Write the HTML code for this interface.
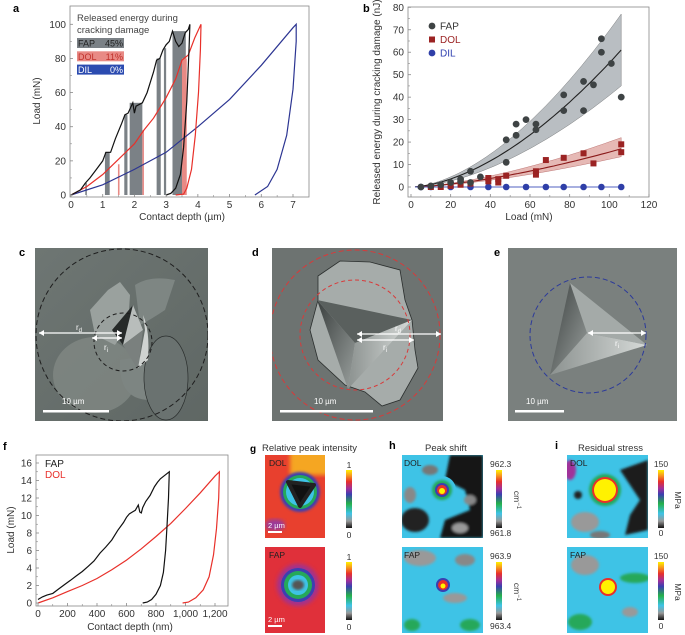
<!DOCTYPE html>
<html><head><meta charset="utf-8"><style>
html,body{margin:0;padding:0;background:#fff}
svg{display:block;font-family:"Liberation Sans",sans-serif;fill:#333}
</style></head><body>
<svg id="fig" width="685" height="635" viewBox="0 0 685 635">
<defs>
<linearGradient id="cbar" x1="0" y1="1" x2="0" y2="0">
<stop offset="0" stop-color="#111"/><stop offset="0.12" stop-color="#999"/><stop offset="0.25" stop-color="#3ec3e6"/><stop offset="0.42" stop-color="#25b04a"/><stop offset="0.58" stop-color="#3b3fb0"/><stop offset="0.68" stop-color="#a0309a"/><stop offset="0.8" stop-color="#e8302a"/><stop offset="0.9" stop-color="#f7941e"/><stop offset="1" stop-color="#fff200"/>
</linearGradient>
<linearGradient id="semc" x1="0" y1="0" x2="1" y2="1"><stop offset="0" stop-color="#6e7673"/><stop offset="1" stop-color="#5f6764"/></linearGradient>
<linearGradient id="facet1" x1="0" y1="0" x2="1" y2="1"><stop offset="0" stop-color="#3a3f3e"/><stop offset="1" stop-color="#9aa09e"/></linearGradient>
<linearGradient id="facet2" x1="0" y1="0" x2="1" y2="0"><stop offset="0" stop-color="#8c9290"/><stop offset="1" stop-color="#d6dad8"/></linearGradient>
<filter id="blur2"><feGaussianBlur stdDeviation="2"/></filter>
<filter id="blur1"><feGaussianBlur stdDeviation="1.2"/></filter>
<clipPath id="cg1"><rect x="265" y="455" width="60" height="83"/></clipPath>
<clipPath id="cg2"><rect x="265" y="547" width="60" height="86"/></clipPath>
<clipPath id="ch1"><rect x="402" y="455" width="81" height="83"/></clipPath>
<clipPath id="ch2"><rect x="402" y="547" width="81" height="86"/></clipPath>
<clipPath id="ci1"><rect x="567" y="455" width="81" height="83"/></clipPath>
<clipPath id="ci2"><rect x="567" y="547" width="81" height="86"/></clipPath>
<clipPath id="cc"><rect x="35" y="248" width="173" height="173"/></clipPath>
<clipPath id="cd"><rect x="272" y="248" width="171" height="173"/></clipPath>
<clipPath id="ce"><rect x="508" y="248" width="169" height="173"/></clipPath>
</defs>

<!-- panel labels -->
<text x="13" y="12" font-size="11" font-weight="bold" fill="#000">a</text>
<text x="363" y="12" font-size="11" font-weight="bold" fill="#000">b</text>
<text x="19" y="256" font-size="11" font-weight="bold" fill="#000">c</text>
<text x="252" y="256" font-size="11" font-weight="bold" fill="#000">d</text>
<text x="494" y="256" font-size="11" font-weight="bold" fill="#000">e</text>
<text x="3" y="450" font-size="11" font-weight="bold" fill="#000">f</text>
<text x="250" y="452" font-size="10" font-weight="bold" fill="#000">g</text>
<text x="262" y="451" font-size="9.5">Relative peak intensity</text>
<text x="389" y="449" font-size="11" font-weight="bold" fill="#000">h</text>
<text x="425" y="451" font-size="9.5">Peak shift</text>
<text x="555" y="449" font-size="11" font-weight="bold" fill="#000">i</text>
<text x="578" y="451" font-size="9.5">Residual stress</text>

<g id="pa"></g>
<g id="pb"></g>
<g id="pf"></g>

<!-- SEM c -->
<g clip-path="url(#cc)">
<rect x="35" y="248" width="173" height="173" fill="url(#semc)"/>
<ellipse cx="95" cy="375" rx="42" ry="38" fill="#848b88" opacity="0.7"/>
<path d="M120 360 Q118 400 150 400 Q160 380 150 355 Z" fill="#7d8582"/>
<ellipse cx="166" cy="378" rx="22" ry="42" fill="#6a7270" stroke="#2a2e2d" stroke-width="0.7"/>
<path d="M135 285 Q150 275 175 280 L165 310 Q150 320 140 325 Z" fill="#7e8683"/>
<path d="M90 310 L108 290 L120 282 L130 295 L128 325 L115 345 L95 335 Z" fill="#9aa19e"/>
<path d="M112 330 L133 305 L123 345 Z" fill="#262a29"/>
<path d="M133 305 L143 330 L123 345 Z" fill="#b8bdbb"/>
<path d="M123 345 L143 330 L138 370 Z" fill="#7a807e"/>
<path d="M143 315 Q150 330 148 360 L138 368 L145 330Z" fill="#cfd3d1"/>
<circle cx="122" cy="335" r="86" fill="none" stroke="#1e1e1e" stroke-width="1" stroke-dasharray="5,3"/>
<circle cx="123" cy="342" r="29" fill="none" stroke="#1e1e1e" stroke-width="1" stroke-dasharray="4,3"/>
<line x1="39" y1="333" x2="122" y2="333" stroke="#fff" stroke-width="1.3"/>
<path d="M39 333 l5 -3 v6Z M122 333 l-5 -3 v6Z" fill="#fff"/>
<line x1="92" y1="338" x2="122" y2="338" stroke="#fff" stroke-width="1.3"/>
<path d="M92 338 l5 -3 v6Z M122 338 l-5 -3 v6Z" fill="#fff"/>
<text x="76" y="330" font-size="8" fill="#fff">r<tspan font-size="6" dy="2" fill="#fff">d</tspan></text>
<text x="104" y="350" font-size="8" fill="#fff">r<tspan font-size="6" dy="2" fill="#fff">i</tspan></text>
<rect x="43" y="410" width="66" height="2.5" fill="#fff"/>
<text x="62" y="404" font-size="8" fill="#fff">10 µm</text>
</g>

<!-- SEM d -->
<g clip-path="url(#cd)">
<rect x="272" y="248" width="171" height="173" fill="#6d7371"/>
<path d="M318 276 L340 261 L370 262 L400 270 L405 300 L412 320 L415 350 L418 368 L400 400 L382 406 L365 392 L345 385 L318 360 L310 330 L318 300 Z" fill="#a6acaa" stroke="#2b2f2e" stroke-width="0.8"/>
<path d="M317 300 L348 389 L355 343 Z" fill="url(#facet1)"/>
<path d="M317 300 L412 320 L355 343 Z" fill="#5a605e"/>
<path d="M355 343 L412 320 L348 389 Z" fill="url(#facet2)"/>
<circle cx="355" cy="335" r="85" fill="none" stroke="#d83a3a" stroke-width="1" stroke-dasharray="5,3"/>
<circle cx="355" cy="335" r="55" fill="none" stroke="#d83a3a" stroke-width="1" stroke-dasharray="4,3"/>
<line x1="357" y1="334" x2="441" y2="334" stroke="#fff" stroke-width="1.3"/>
<path d="M357 334 l5 -3 v6Z M441 334 l-5 -3 v6Z" fill="#fff"/>
<line x1="357" y1="340" x2="414" y2="340" stroke="#fff" stroke-width="1.3"/>
<path d="M357 340 l5 -3 v6Z M414 340 l-5 -3 v6Z" fill="#fff"/>
<text x="395" y="331" font-size="8" fill="#fff">r<tspan font-size="6" dy="2" fill="#fff">d</tspan></text>
<text x="383" y="350" font-size="8" fill="#fff">r<tspan font-size="6" dy="2" fill="#fff">i</tspan></text>
<rect x="280" y="410" width="93" height="2.5" fill="#fff"/>
<text x="314" y="404" font-size="8" fill="#fff">10 µm</text>
</g>

<!-- SEM e -->
<g clip-path="url(#ce)">
<rect x="508" y="248" width="169" height="173" fill="#7a807e"/>
<path d="M570 283 L587 333 L550 375 Z" fill="url(#facet1)"/>
<path d="M570 283 L587 333 L647 345 Z" fill="#a4aaa8"/>
<path d="M587 333 L647 345 L550 375 Z" fill="url(#facet2)"/>
<circle cx="588" cy="335" r="58" fill="none" stroke="#2c3a9a" stroke-width="1" stroke-dasharray="5,3"/>
<line x1="588" y1="333" x2="646" y2="333" stroke="#fff" stroke-width="1.3"/>
<path d="M588 333 l5 -3 v6Z M646 333 l-5 -3 v6Z" fill="#fff"/>
<text x="615" y="346" font-size="8" fill="#fff">r<tspan font-size="6" dy="2" fill="#fff">i</tspan></text>
<rect x="515" y="410" width="49" height="2.5" fill="#fff"/>
<text x="526" y="404" font-size="8" fill="#fff">10 µm</text>
</g>

<!-- g maps -->
<g clip-path="url(#cg1)">
<rect x="265" y="455" width="60" height="83" fill="#e8402e"/>
<rect x="290" y="450" width="40" height="25" fill="#f5a623" filter="url(#blur2)"/>
<ellipse cx="275" cy="525" rx="10" ry="6" fill="#9a3a9a" filter="url(#blur2)"/>
<circle cx="300" cy="492" r="20" fill="#3d3fb0" filter="url(#blur1)"/>
<circle cx="300" cy="492" r="17" fill="#25a85a"/>
<circle cx="300" cy="492" r="14" fill="#3ec3e6"/>
<path d="M288 482 L314 485 L300 506 Z" fill="#111" stroke="#222" stroke-width="4" stroke-linejoin="round"/>
<text x="269" y="466" font-size="8.5" fill="#222">DOL</text>
<rect x="268" y="531" width="14" height="2" fill="#fff"/>
<text x="268" y="528" font-size="7.5" fill="#fff">2 µm</text>
</g>
<g clip-path="url(#cg2)">
<rect x="265" y="547" width="60" height="86" fill="#e0303a"/>
<circle cx="298" cy="585" r="21" fill="#a03090" filter="url(#blur2)"/>
<circle cx="298" cy="585" r="17" fill="#3d3fb0"/>
<circle cx="298" cy="585" r="14" fill="#25a85a"/>
<circle cx="298" cy="585" r="10" fill="#3ec3e6"/>
<ellipse cx="298" cy="585" rx="6" ry="5" fill="#555" filter="url(#blur1)"/>
<text x="269" y="558" font-size="8.5" fill="#222">FAP</text>
<rect x="268" y="625" width="14" height="2" fill="#fff"/>
<text x="268" y="622" font-size="7.5" fill="#fff">2 µm</text>
</g>
<g>
<rect x="346" y="470" width="6" height="58" fill="url(#cbar)"/>
<rect x="346" y="562" width="6" height="58" fill="url(#cbar)"/>
<text x="349" y="468" font-size="8.5" text-anchor="middle">1</text>
<text x="349" y="538" font-size="8.5" text-anchor="middle">0</text>
<text x="349" y="560" font-size="8.5" text-anchor="middle">1</text>
<text x="349" y="630" font-size="8.5" text-anchor="middle">0</text>
</g>

<!-- h maps -->
<g clip-path="url(#ch1)">
<rect x="402" y="455" width="81" height="83" fill="#3ec3e6"/>
<g filter="url(#blur1)">
<path d="M450 455 L483 455 L483 538 L440 538 L445 520 L470 510 L465 490 L445 480 Z" fill="#151515"/>
<ellipse cx="415" cy="520" rx="14" ry="12" fill="#222"/>
<ellipse cx="430" cy="470" rx="8" ry="5" fill="#777"/>
<ellipse cx="410" cy="495" rx="6" ry="8" fill="#888"/>
<ellipse cx="470" cy="500" rx="6" ry="5" fill="#888"/>
<ellipse cx="460" cy="528" rx="8" ry="5" fill="#999"/>
</g>
<circle cx="442" cy="490" r="14" fill="#3ec3e6"/>
<circle cx="442" cy="490" r="10" fill="#25a85a" filter="url(#blur1)"/>
<circle cx="442" cy="490" r="7" fill="#3b3fb0"/>
<circle cx="442" cy="490" r="5" fill="#e8302a"/>
<circle cx="442" cy="491" r="3" fill="#fff200"/>
<text x="404" y="466" font-size="8.5" fill="#222">DOL</text>
</g>
<g clip-path="url(#ch2)">
<rect x="402" y="547" width="81" height="86" fill="#3ec3e6"/>
<g filter="url(#blur1)">
<ellipse cx="420" cy="558" rx="16" ry="8" fill="#999"/>
<ellipse cx="465" cy="560" rx="10" ry="6" fill="#888"/>
<ellipse cx="455" cy="598" rx="12" ry="5" fill="#999"/>
<ellipse cx="412" cy="625" rx="8" ry="6" fill="#25a85a"/>
<ellipse cx="470" cy="625" rx="10" ry="6" fill="#25a85a"/>
</g>
<circle cx="443" cy="585" r="7" fill="#3b3fb0"/>
<circle cx="443" cy="585" r="5" fill="#e8302a"/>
<circle cx="443" cy="586" r="2.5" fill="#fff200"/>
<text x="404" y="558" font-size="8.5" fill="#222">FAP</text>
</g>
<g>
<rect x="496" y="470" width="6" height="58" fill="url(#cbar)"/>
<rect x="496" y="562" width="6" height="58" fill="url(#cbar)"/>
<text x="490" y="467" font-size="8.5">962.3</text>
<text x="490" y="536" font-size="8.5">961.8</text>
<text x="490" y="559" font-size="8.5">963.9</text>
<text x="490" y="629" font-size="8.5">963.4</text>
<text transform="translate(514,500) rotate(90)" font-size="8.5" text-anchor="middle">cm<tspan dy="-3" font-size="6">−1</tspan></text>
<text transform="translate(514,592) rotate(90)" font-size="8.5" text-anchor="middle">cm<tspan dy="-3" font-size="6">−1</tspan></text>
</g>

<!-- i maps -->
<g clip-path="url(#ci1)">
<rect x="567" y="455" width="81" height="83" fill="#3ec3e6"/>
<g filter="url(#blur1)">
<path d="M620 470 L648 460 L648 530 L625 535 L630 515 L640 500 Z" fill="#1a1a1a"/>
<ellipse cx="585" cy="522" rx="14" ry="10" fill="#999"/>
<ellipse cx="570" cy="470" rx="6" ry="10" fill="#a0309a"/>
<ellipse cx="600" cy="535" rx="10" ry="4" fill="#777"/>
<ellipse cx="578" cy="495" rx="4" ry="4" fill="#222"/>
</g>
<circle cx="605" cy="490" r="16" fill="#25a85a" filter="url(#blur1)"/>
<circle cx="605" cy="490" r="13" fill="#e8302a"/>
<circle cx="605" cy="490" r="11" fill="#fff200"/>
<text x="570" y="466" font-size="8.5" fill="#222">DOL</text>
</g>
<g clip-path="url(#ci2)">
<rect x="567" y="547" width="81" height="86" fill="#3ec3e6"/>
<g filter="url(#blur1)">
<ellipse cx="585" cy="565" rx="14" ry="10" fill="#999"/>
<ellipse cx="635" cy="578" rx="15" ry="5" fill="#25a85a"/>
<ellipse cx="580" cy="622" rx="12" ry="8" fill="#25a85a"/>
<ellipse cx="630" cy="612" rx="8" ry="5" fill="#999"/>
</g>
<circle cx="608" cy="587" r="9" fill="#e8302a"/>
<circle cx="608" cy="587" r="7" fill="#fff200"/>
<text x="570" y="558" font-size="8.5" fill="#222">FAP</text>
</g>
<g>
<rect x="658" y="470" width="6" height="58" fill="url(#cbar)"/>
<rect x="658" y="562" width="6" height="58" fill="url(#cbar)"/>
<text x="661" y="467" font-size="8.5" text-anchor="middle">150</text>
<text x="661" y="536" font-size="8.5" text-anchor="middle">0</text>
<text x="661" y="559" font-size="8.5" text-anchor="middle">150</text>
<text x="661" y="629" font-size="8.5" text-anchor="middle">0</text>
<text transform="translate(675,500) rotate(90)" font-size="8.5" text-anchor="middle">MPa</text>
<text transform="translate(675,592) rotate(90)" font-size="8.5" text-anchor="middle">MPa</text>
</g>
</svg>
<script>
// ===== Panel a data =====
const aFapX = [0,0.3,0.45,0.6,0.8,1.0,1.1,1.25,1.4,1.6,1.7,1.8,1.95,2.0,2.05,2.25,2.4,2.5,2.6,2.7,2.8,2.9,3.0,3.1,3.2,3.3,3.4,3.5,3.6,3.7,3.75,3.72,3.65,3.55,3.45,3.3,3.15,3.0];
const aFapY = [0,3,7,10,15,20,25,25,33,42,47,48,54,48,52,54,60,66,72,79,80,85,88,90,96,90,87,89,95,97,100,85,55,28,12,4,1,0];
const aDolX = [0,0.5,1,1.5,2,2.3,2.6,3,3.3,3.5,3.7,3.9,4.1,4.08,4.02,3.92,3.8,3.65,3.55,3.3];
const aDolY = [0,5,12,21,30,38,45,57,68,79,82,92,100,85,60,35,15,4,0.5,0];
const aDilX = [0,1,2,3,4,5,6,7,7.1,7.1,7.0,6.8,6.5,6.2,5.8];
const aDilY = [0,6,15,25,40,56,76,98,100,90,62,35,15,5,0];
const aFapBarsX0 = [0.45,1.07,1.68,1.85,2.7,2.93,3.2];
const aFapBarsX1 = [0.5,1.22,1.78,2.25,2.83,3.0,3.62];
const aFapBarsH = [7,25,47,54,80,86,96];
const aDolBarsX0 = [1.48,2.25,3.5];
const aDolBarsX1 = [1.53,2.3,3.65];
const aDolBarsH = [18,38,80];
const aXTicks = [0,1,2,3,4,5,6,7];
const aYTicks = [0,20,40,60,80,100];
const aLegendNames = ["FAP","DOL","DIL"];
const aLegendPct = ["45%","11%","0%"];

// ===== Panel b data =====
const bFapX = [5,10,15,20,25,25,30,30,35,48,48,53,53,58,63,63,77,77,87,87,92,96,96,101,106];
const bFapY = [0,0.5,1,2,3.5,2.5,7,2,4.5,21,11,28,23,30,28,25.5,41,34,47,34,45.5,66,60,55,40];
const bDolX = [10,15,20,25,30,39,39,44,44,48,63,63,68,77,87,92,106,106];
const bDolY = [0,0,0.5,1,1.5,4,2.5,3.5,2,5,7,5.5,12,13,15,10.5,19,15.5];
const bDilX = [5,10,20,30,39,48,58,68,77,87,96,106];
const bDilY = [0,0,0,0,0,0,0,0,0,0,0,0];
const bFitFap = [61,1.7];
const bBandFap = [77,45];
const bFitDol = [17,1.54];
const bBandDol = [22,13.5];
const bXTicks = [0,20,40,60,80,100,120];
const bYTicks = [0,10,20,30,40,50,60,70,80];

// ===== Panel f data =====
const fFapX = [0,30,60,100,140,180,220,260,300,340,380,420,460,500,540,580,600,620,640,660,680,690,700,710,730,760,790,810,830,860,890,885,875,865,850,830,800,770,740,710];
const fFapY = [0.4,0.7,0.9,1.1,1.6,2.1,2.6,3.1,3.6,4.2,4.8,5.7,6.4,7.2,8.3,9.2,9.8,10.2,10.4,10.6,11.2,10.4,10.3,10.9,11.6,12.3,13.3,13.8,14.2,14.6,15,12,9,6,3.5,2,1,0.4,0.1,0];
const fDolX = [0,100,200,300,400,500,600,700,800,900,1000,1100,1200,1230,1225,1210,1190,1160,1120,1070,1020,980];
const fDolY = [0,0.6,1.3,2.0,2.8,3.8,4.9,6.2,7.6,9.1,10.8,12.6,14.5,15,12,8.5,5.5,3,1.5,0.6,0.1,0];
const fXTicks = [0,200,400,600,800,1000,1200];
const fXLabels = ["0","200","400","600","800","1,000","1,200"];
const fYTicks = [0,2,4,6,8,10,12,14,16];

const NS = "http://www.w3.org/2000/svg";
function mk(tag, attrs, parent){const e=document.createElementNS(NS,tag);for(const k in attrs)e.setAttribute(k,attrs[k]);parent.appendChild(e);return e;}
function lin(d0,d1,r0,r1){return v=>r0+(v-d0)*(r1-r0)/(d1-d0);}
function pathOf(xs,ys,sx,sy){return xs.map((x,i)=>(i?"L":"M")+sx(x).toFixed(1)+" "+sy(ys[i]).toFixed(1)).join(" ");}

function frame(g,box,sx,sy,xt,xl,yt){
  const r=mk("rect",{x:box[0],y:box[1],width:box[2]-box[0],height:box[3]-box[1],fill:"none",stroke:"#888","stroke-width":0.8},g);
  
  
  xt.forEach((v,i)=>{
    mk("line",{x1:sx(v),x2:sx(v),y1:box[3],y2:box[3]-3,stroke:"#888","stroke-width":0.8},g);
    const t=mk("text",{x:sx(v),y:box[3]+11,"font-size":10,"text-anchor":"middle"},g);t.textContent=xl?xl[i]:v;
    
    
  });
  yt.forEach(v=>{
    mk("line",{x1:box[0],x2:box[0]+3,y1:sy(v),y2:sy(v),stroke:"#888","stroke-width":0.8},g);
    const t=mk("text",{x:box[0]-4,y:sy(v)+3.5,"font-size":10,"text-anchor":"end"},g);t.textContent=v;
    
    
  });
  for(let i=0;i<yt.length-1;i++){const m=(yt[i]+yt[i+1])/2;mk("line",{x1:box[0],x2:box[0]+2,y1:sy(m),y2:sy(m),stroke:"#888","stroke-width":0.6},g);}
  for(let i=0;i<xt.length-1;i++){const m=(xt[i]+xt[i+1])/2;mk("line",{x1:sx(m),x2:sx(m),y1:box[3],y2:box[3]-2,stroke:"#888","stroke-width":0.6},g);}
}
function label(g,txt,x,y,rot,name){
  const t=mk("text",{"font-size":10,"text-anchor":"middle",transform:"translate("+x+","+y+")"+(rot?" rotate(-90)":"")},g);t.textContent=txt;
  
  
}

// ---- Panel a ----
(function(){
  const g=document.getElementById("pa");
  const sx=lin(0,7,71,293), sy=lin(0,100,195,24.3);
  aFapBarsX0.forEach((x0,i)=>{
    const r=mk("rect",{x:sx(x0),y:sy(aFapBarsH[i]),width:sx(aFapBarsX1[i])-sx(x0),height:sy(0)-sy(aFapBarsH[i]),fill:"#7b8186"},g);
    
    
  });
  aDolBarsX0.forEach((x0,i)=>{
    const r=mk("rect",{x:sx(x0),y:sy(aDolBarsH[i]),width:sx(aDolBarsX1[i])-sx(x0),height:sy(0)-sy(aDolBarsH[i]),fill:"#e88a85"},g);
    
    
  });
  let p=mk("path",{d:pathOf(aDilX,aDilY,sx,sy),fill:"none",stroke:"#2c3592","stroke-width":1.2},g);
  
  
  p=mk("path",{d:pathOf(aDolX,aDolY,sx,sy),fill:"none",stroke:"#e8302a","stroke-width":1.2},g);
  
  
  p=mk("path",{d:pathOf(aFapX,aFapY,sx,sy),fill:"none",stroke:"#111","stroke-width":1.2},g);
  
  
  frame(g,[70,6,309,197],sx,sy,aXTicks,null,aYTicks);
  label(g,"Contact depth (µm)",182,220,false,"x-axis-title");
  label(g,"Load (mN)",40,101,true,"y-axis-title");
  let t=mk("text",{x:77,y:21,"font-size":9.5,fill:"#444"},g);t.textContent="Released energy during";
  
  
  t=mk("text",{x:77,y:33,"font-size":9.5,fill:"#444"},g);t.textContent="cracking damage";
  const cols=["#7b8186","#e88a85","#2b4bb0"], tcol=["#222","#c0302a","#fff"];
  aLegendNames.forEach((n,i)=>{
    const y=38+i*13.3;
    const r=mk("rect",{x:77,y:y,width:47,height:10,fill:cols[i]},g);
    
    
    const a=mk("text",{x:78,y:y+8.5,"font-size":9,fill:tcol[i]},g);a.textContent=n;
    const b=mk("text",{x:123,y:y+8.5,"font-size":9,fill:tcol[i],"text-anchor":"end"},g);b.textContent=aLegendPct[i];
  });
})();

// ---- Panel b ----
(function(){
  const g=document.getElementById("pb");
  const sx=lin(0,120,411,649), sy=lin(0,80,187,7.3);
  function band(fit,bnd,fill,lc,name){
    const xs=[],up=[],lo=[],mid=[];
    for(let x=2;x<=106;x+=2){const f=Math.pow(x/106,fit[1]);xs.push(x);mid.push(fit[0]*f);up.push(bnd[0]*f);lo.push(bnd[1]*f);}
    const d=pathOf(xs,up,sx,sy)+" "+pathOf(xs.slice().reverse(),lo.slice().reverse(),sx,sy).replace("M","L")+"Z";
    const b=mk("path",{d:d,fill:fill,stroke:lc,"stroke-width":0.5,"stroke-opacity":0.5},g);
    
    
    const l=mk("path",{d:pathOf(xs,mid,sx,sy),fill:"none",stroke:lc,"stroke-width":1.1},g);
    
    
  }
  band(bFitFap,bBandFap,"#b9bec2","#222","fap");
  band(bFitDol,bBandDol,"#e6b9b5","#8b1a1a","dol");
  const dl=mk("line",{x1:sx(2),x2:sx(106),y1:sy(0),y2:sy(0),stroke:"#5060c0","stroke-width":1},g);
  
  
  bDilX.forEach((x,i)=>{const c=mk("circle",{cx:sx(x),cy:sy(bDilY[i]),r:3.3,fill:"#2f3fa8"},g);
    
    });
  bDolX.forEach((x,i)=>{const c=mk("rect",{x:sx(x)-3,y:sy(bDolY[i])-3,width:6,height:6,fill:"#9b2323"},g);
    
    });
  bFapX.forEach((x,i)=>{const c=mk("circle",{cx:sx(x),cy:sy(bFapY[i]),r:3.4,fill:"#3e4344"},g);
    
    });
  frame(g,[408,7,649,197],sx,sy,bXTicks,null,bYTicks);
  label(g,"Load (mN)",529,220,false,"x-axis-title");
  label(g,"Released energy during cracking damage (nJ)",380,102,true,"y-axis-title");
  const items=[["FAP","#3e4344","#333"],["DOL","#9b2323","#9b2323"],["DIL","#2f3fa8","#3040b0"]];
  items.forEach((it,i)=>{
    const y=26+i*13.5;
    if(i==1)mk("rect",{x:429,y:y-3,width:6,height:6,fill:it[1]},g);else mk("circle",{cx:432,cy:y,r:3.4,fill:it[1]},g);
    const t=mk("text",{x:440,y:y+3.5,"font-size":10,fill:it[2]},g);t.textContent=it[0];
    
    
  });
})();

// ---- Panel f ----
(function(){
  const g=document.getElementById("pf");
  const sx=lin(0,1200,38,215), sy=lin(0,16,603,463);
  let p=mk("path",{d:pathOf(fDolX,fDolY,sx,sy),fill:"none",stroke:"#e8302a","stroke-width":1.2},g);
  
  
  p=mk("path",{d:pathOf(fFapX,fFapY,sx,sy),fill:"none",stroke:"#111","stroke-width":1.2},g);
  
  
  frame(g,[36,455,228,606],sx,sy,fXTicks,fXLabels,fYTicks);
  label(g,"Contact depth (nm)",130,630,false,"x-axis-title");
  label(g,"Load (mN)",14,530,true,"y-axis-title");
  let t=mk("text",{x:45,y:467,"font-size":10,fill:"#222"},g);t.textContent="FAP";
  
  
  t=mk("text",{x:45,y:478,"font-size":10,fill:"#e8302a"},g);t.textContent="DOL";
  
  
})();
</script>
</body></html>
